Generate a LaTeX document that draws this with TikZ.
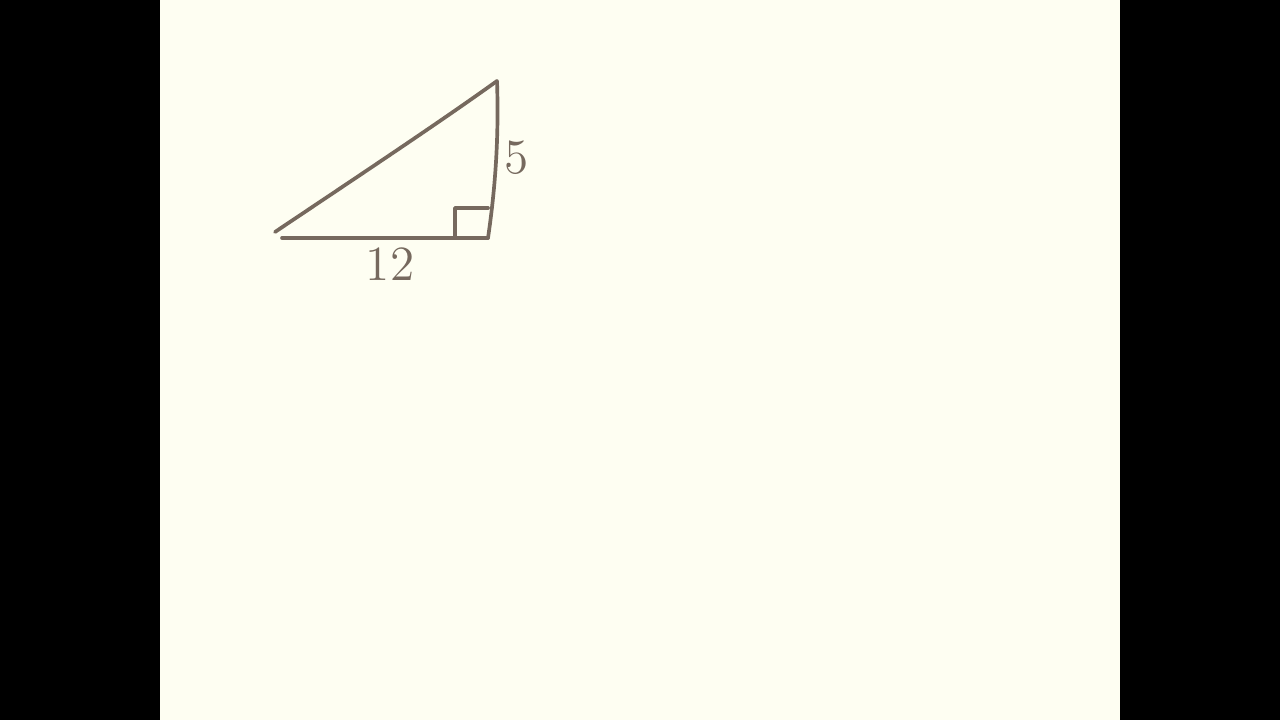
\documentclass[tikz,border=0pt]{standalone}
\usepackage{amsmath}
\usepackage{amssymb}
\definecolor{pen}{HTML}{76695E}
\definecolor{paper}{HTML}{FEFEF2}

\begin{document}
\begin{tikzpicture}
	[
		% Make a style for the pen strokes.
		stroke/.style={draw=pen, line width=1.05pt, line cap=round, line join=round},
		% And one for the side lengths.
		sidelabel/.style={text=pen, font=\fontsize{14}{14}\selectfont, inner sep=0pt}
	]
		% Background
		\fill[black] (0,0) rectangle (12.8,7.2);
		\fill[paper] (1.6,0) rectangle (11.2,7.2);
		\useasboundingbox (0,0) rectangle (12.8,7.2);

		\coordinate (a) at (2.75,4.88);
		\coordinate (a2) at (2.82,4.82);
		\coordinate (c) at (4.88,4.82);
		\coordinate (b) at (4.97,6.39);
		\coordinate (sq1) at (4.55,4.82);
		\coordinate (sq2) at (4.55,5.12);
		\coordinate (sq3) at (4.88,5.12);

		% Draw sides
		\draw[stroke] (a) .. controls (3.6,5.45) and (4.4,5.98) .. (b);
		\draw[stroke] (b) .. controls (4.99,5.8) and (4.95,5.3) .. (c);
		\draw[stroke] (a2) -- (c);
		\draw[stroke] (sq1) -- (sq2) -- (sq3);

		\node[sidelabel] (base) at (3.90,4.56) {12};
		\node[sidelabel] (height) at (5.17,5.62) {5};
	\end{tikzpicture}
\end{document}
